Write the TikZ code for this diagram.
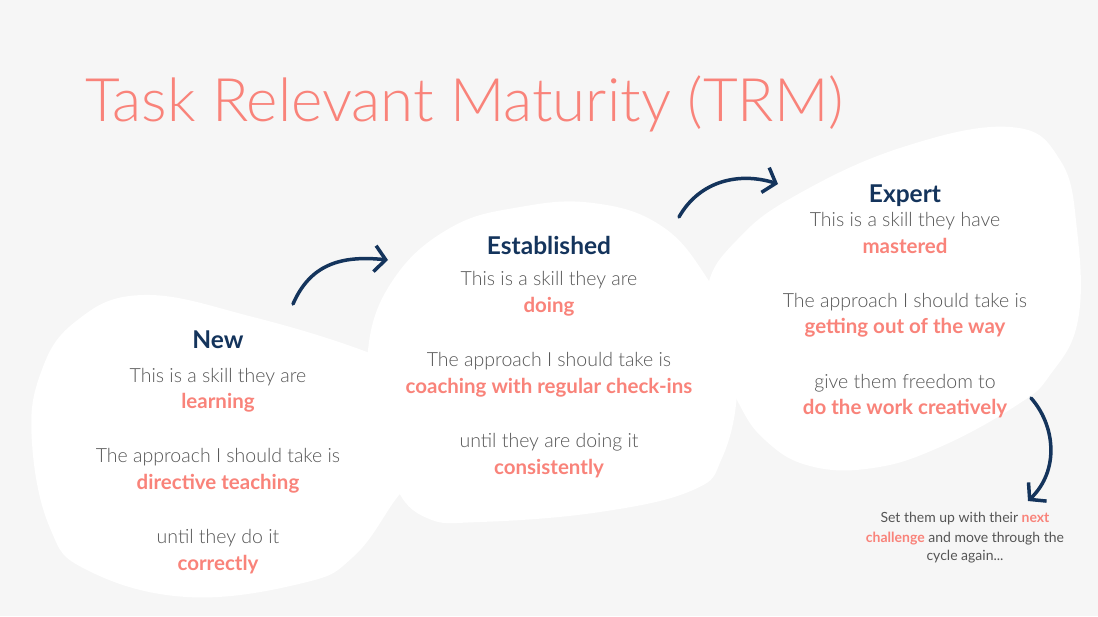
\documentclass[tikz,border=0pt]{standalone}
\usepackage{fontspec}
\setmainfont{Lato}
\newfontfamily\lightfont{Lato Light}
\usetikzlibrary{arrows.meta}
\definecolor{bg}{HTML}{F6F6F6}
\definecolor{salmon}{HTML}{F9837A}
\definecolor{navy}{HTML}{14345C}
\definecolor{graytext}{HTML}{555555}
\tikzset{
  blob/.style={fill=white, draw=none},
  body/.style={anchor=base, text=graytext, font=\lightfont\fontsize{19.5}{22}\selectfont, inner sep=0pt},
  hl/.style={anchor=base, text=salmon, font=\bfseries\fontsize{20.5}{22}\selectfont, inner sep=0pt},
  head/.style={anchor=base, text=navy, font=\bfseries\fontsize{24.5}{26}\selectfont, inner sep=0pt},
  note/.style={anchor=base, text=graytext, font=\fontsize{14}{15}\selectfont, inner sep=0pt},
  arr/.style={draw=navy, line width=3.5pt, line cap=round, -{Straight Barb[length=11pt, width=26pt, line width=3.5pt]}},
}
\begin{document}
\begin{tikzpicture}[x=1pt, y=-1pt]
\fill[bg] (0,0) rectangle (1098,616);
\useasboundingbox (0,0) rectangle (1098,616);
% blobs
\fill[blob] plot[smooth cycle, tension=0.7] coordinates {(143,295) (253,317) (367,352) (420,380) (420,460) (393,503) (353,557) (303,583) (187,597) (87,570) (50,528) (32,443) (40,375) (75,322)};
\fill[blob] plot[smooth cycle, tension=0.7] coordinates {(593,203) (660,225) (705,275) (730,330) (737,393) (722,458) (693,490) (600,512) (480,522) (427,518) (395,485) (378,420) (368,350) (393,280) (450,228) (520,207)};
\fill[blob] plot[smooth cycle, tension=0.7] coordinates {(1010,127) (1060,160) (1077,230) (1078,320) (1050,375) (1017,405) (940,447) (873,468) (810,466) (765,440) (737,400) (712,340) (708,285) (737,240) (793,197) (900,148)};
% title
\node[anchor=base west, inner sep=0pt, text=salmon, font=\lightfont\fontsize{60}{66}\selectfont] (title) at (85,121) {Task Relevant Maturity (TRM)};
% New
\node[head] (n0) at (218,348) {New};
\node[body] (n1) at (218,382) {This is a skill they are};
\node[hl]   (n2) at (218,408) {learning};
\node[body] (n3) at (218,462) {The approach I should take is};
\node[hl]   (n4) at (218,489) {directive teaching};
\node[body] (n5) at (218,543) {until they do it};
\node[hl]   (n6) at (218,570) {correctly};
% Established
\node[head] (e0) at (549,254) {Established};
\node[body] (e1) at (549,285) {This is a skill they are};
\node[hl]   (e2) at (549,312) {doing};
\node[body] (e3) at (549,366) {The approach I should take is};
\node[hl]   (e4) at (549,393) {coaching with regular check-ins};
\node[body] (e5) at (549,447) {until they are doing it};
\node[hl]   (e6) at (549,474) {consistently};
% Expert
\node[head] (x0) at (905,202) {Expert};
\node[body] (x1) at (905,226) {This is a skill they have};
\node[hl]   (x2) at (905,253) {mastered};
\node[body] (x3) at (905,307) {The approach I should take is};
\node[hl]   (x4) at (905,333) {getting out of the way};
\node[body] (x5) at (905,388) {give them freedom to};
\node[hl]   (x6) at (905,414) {do the work creatively};
% note
\node[note] (m1) at (965,522) {Set them up with their \textcolor{salmon}{\bfseries next}};
\node[note] (m2) at (965,542) {\textcolor{salmon}{\bfseries challenge} and move through the};
\node[note] (m3) at (965,560) {cycle again...};
% arrows
\coordinate (a1s) at (293,304);
\coordinate (a1e) at (388,260);
\coordinate (a2s) at (679,217);
\coordinate (a2e) at (778,184);
\coordinate (a3s) at (1031,398);
\coordinate (a3e) at (1028,501);
\draw[arr] (a1s) .. controls (310,265) and (340,255) .. (a1e);
\draw[arr] (a2s) .. controls (700,180) and (740,172) .. (a2e);
\draw[arr] (a3s) .. controls (1055,425) and (1060,470) .. (a3e);
\end{tikzpicture}
\end{document}
